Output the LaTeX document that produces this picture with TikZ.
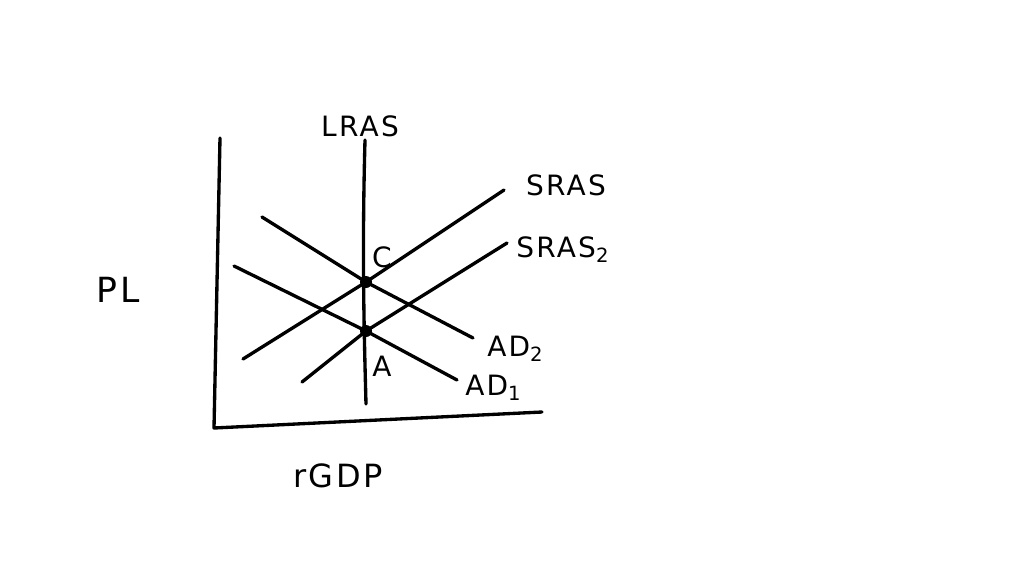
\documentclass[tikz,border=0pt]{standalone}
\usepackage{fontspec}
\setmainfont{DejaVu Sans}[LetterSpace=8]
\begin{document}
\begin{tikzpicture}[x=0.75pt,y=-0.75pt,
  curve/.style={line width=2.5pt,line cap=round,line join=round,black},
  lbl/.style={font=\fontsize{21}{24}\selectfont,inner sep=0pt},
  dot/.style={circle,fill=black,inner sep=0pt,minimum size=9pt}]
\useasboundingbox[fill=white] (0,0) rectangle (1024,576);
% axes
\coordinate (ytop) at (220,138);
\coordinate (orig) at (214,428);
\coordinate (xend) at (542,412);
\draw[curve] (ytop) -- (orig) -- (xend);
% points
\coordinate (Cp) at (366,282);
\coordinate (Ap) at (366,331);
% LRAS
\coordinate (ltop) at (365,140);
\coordinate (lbot) at (366,404);
\draw[curve] (ltop) .. controls (362,250) and (364,330) .. (lbot);
% SRAS
\coordinate (s1a) at (243,359);
\coordinate (s1b) at (504,190);
\draw[curve] (s1a) -- (Cp) -- (s1b);
% SRAS2
\coordinate (s2a) at (302,382);
\coordinate (s2b) at (507,243);
\draw[curve] (s2a) -- (Ap) -- (s2b);
% AD2
\coordinate (d2a) at (262,217);
\coordinate (d2b) at (473,338);
\draw[curve] (d2a) -- (Cp) -- (d2b);
% AD1
\coordinate (d1a) at (234,266);
\coordinate (d1b) at (457,380);
\draw[curve] (d1a) -- (Ap) -- (d1b);
\node[dot] (C) at (Cp) {};
\node[dot] (A) at (Ap) {};
% labels
\node[lbl] (tLRAS) at (360,126) {LRAS};
\node[lbl] (tSRAS) at (566,185) {SRAS};
\node[lbl,anchor=west] (tSRAS2) at (516,250) {SRAS\textsubscript{2}};
\node[lbl,anchor=west] (tAD2) at (487,349) {AD\textsubscript{2}};
\node[lbl,anchor=west] (tAD1) at (465,388) {AD\textsubscript{1}};
\node[lbl] (tC) at (382,257) {C};
\node[lbl] (tA) at (382,366) {A};
\node[lbl,font=\fontsize{26}{30}\selectfont] (tPL) at (118,290) {PL};
\node[lbl,font=\fontsize{24}{28}\selectfont] (tGDP) at (338,476) {rGDP};
\end{tikzpicture}
\end{document}
